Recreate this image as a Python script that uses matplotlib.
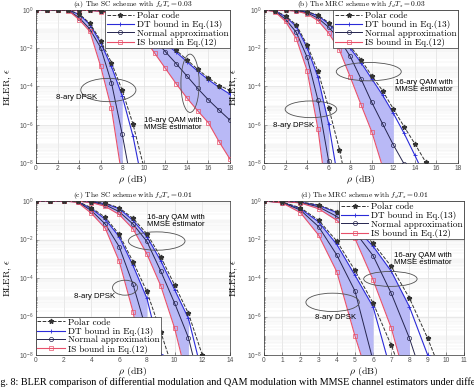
import numpy as np
import matplotlib
matplotlib.use("Agg")
import matplotlib.pyplot as plt
from matplotlib.patches import Ellipse
from matplotlib.ticker import LogLocator, FixedLocator, NullFormatter, LogFormatterSciNotation

plt.rcParams['font.family'] = ['Liberation Sans', 'DejaVu Sans']
plt.rcParams['mathtext.fontset'] = 'cm'

# ---------------- data (log10 of BLER at integer rho in dB, starting at 0 dB) -------------
a_dpsk_polar = [0, 0, 0, -0.01, -0.2, -0.7, -1.6, -2.75, -4.2, -5.97, -8.2]
a_dpsk_dt    = [0, 0, 0, -0.01, -0.23, -0.76, -1.72, -2.95, -4.5, -6.6, -9.4]
a_dpsk_na    = [0, 0, 0, -0.02, -0.4, -1.0, -1.97, -3.8, -6.5, -9.5]
a_dpsk_is    = [0, 0, 0, -0.03, -0.5, -1.12, -2.95, -5.15, -8.8]
a_qam_polar = [0, 0, 0, 0, 0, -0.01, -0.04, -0.12, -0.25, -0.45, -0.75, -1.2, -1.7, -2.1, -2.6, -3.1, -3.55, -3.95, -4.2]
a_qam_dt    = [0, 0, 0, 0, 0, -0.01, -0.05, -0.14, -0.28, -0.5, -0.8, -1.25, -1.75, -2.2, -2.7, -3.2, -3.65, -4.05, -4.4]
a_qam_na    = [0, 0, 0, 0, 0, -0.02, -0.06, -0.18, -0.35, -0.62, -1.0, -1.55, -2.18, -2.8, -3.45, -4.1, -4.7, -5.24, -5.76]
a_qam_is    = [0, 0, 0, 0, 0, -0.02, -0.08, -0.22, -0.45, -0.85, -1.45, -2.25, -3.05, -3.85, -4.6, -5.27, -5.9, -6.9, -7.8]

b_dpsk_polar = [0, -0.03, -0.31, -0.78, -1.83, -3.2, -5.1, -7.3, -10]
b_dpsk_dt    = [0, -0.04, -0.35, -0.86, -1.97, -3.5, -5.95, -9.3]
b_dpsk_na    = [0, -0.06, -0.48, -1.17, -2.47, -4.7, -7.9, -12]
b_dpsk_is    = [0, -0.08, -0.6, -1.5, -3.17, -6.2, -10.5]
b_qam_polar = [0, 0, 0, -0.02, -0.09, -0.26, -0.66, -1.2, -1.9, -2.6, -3.44, -4.22, -5.17, -6.1, -7.0, -7.95, -9.0]
b_qam_dt    = [0, 0, -0.01, -0.03, -0.1, -0.3, -0.72, -1.3, -2.0, -2.75, -3.6, -4.45, -5.4, -6.45, -7.6, -8.8]
b_qam_na    = [0, 0, -0.01, -0.04, -0.15, -0.42, -0.9, -1.53, -2.43, -3.6, -4.83, -5.95, -7.05, -8.05, -9.3]
b_qam_is    = [0, 0, -0.02, -0.06, -0.2, -0.55, -1.2, -2.1, -3.5, -4.95, -6.37, -8.2, -10]

c_dpsk_polar = [0, 0, 0, -0.02, -0.35, -0.85, -1.73, -3.15, -4.7, -6.8, -9.0]
c_dpsk_dt    = [0, 0, 0, -0.03, -0.4, -0.95, -1.85, -3.35, -5.05, -7.95, -11]
c_dpsk_na    = [0, 0, 0, -0.05, -0.5, -1.2, -2.37, -4.33, -6.8, -10]
c_dpsk_is    = [0, 0, 0, -0.07, -0.64, -1.42, -3.12, -5.75, -9.5]
c_qam_polar = [0, 0, 0, 0, -0.03, -0.12, -0.35, -0.9, -1.7, -2.9, -4.36, -5.84, -8.0, -10.5]
c_qam_dt    = [0, 0, 0, 0, -0.04, -0.14, -0.4, -1.0, -1.85, -3.1, -4.6, -6.1, -9.0, -12]
c_qam_na    = [0, 0, 0, -0.01, -0.06, -0.2, -0.55, -1.2, -2.1, -3.64, -5.3, -7.1, -10]
c_qam_is    = [0, 0, 0, -0.01, -0.08, -0.28, -0.7, -1.45, -2.75, -4.4, -6.6, -9.5]

d_dpsk_polar = [0, -0.05, -0.35, -0.99, -2.08, -3.6, -5.3, -7.5, -10]
d_dpsk_dt    = [0, -0.06, -0.4, -1.08, -2.25, -3.85, -5.5, -8.9]
d_dpsk_na    = [0, -0.08, -0.47, -1.33, -2.8, -4.67, -8.3]
d_dpsk_is    = [0, -0.1, -0.6, -1.77, -3.67, -7.0, -10]
d_qam_polar = [0, -0.01, -0.05, -0.2, -0.55, -1.25, -2.2, -3.4, -5.05, -7.13, -9.5]
d_qam_dt    = [0, -0.01, -0.06, -0.23, -0.6, -1.35, -2.35, -3.65, -5.5, -8.0]
d_qam_na    = [0, -0.01, -0.08, -0.3, -0.8, -1.6, -2.84, -4.8, -7.13, -10]
d_qam_is    = [0, -0.02, -0.1, -0.4, -1.0, -1.94, -4.1, -6.6, -10]

titles = ["(a) The SC scheme with $f_dT_s = 0.03$",
          "(b) The MRC scheme with $f_dT_s = 0.03$",
          "(c) The SC scheme with $f_dT_s = 0.01$",
          "(d) The MRC scheme with $f_dT_s = 0.01$"]
legend_labels = ["Polar code", "DT bound in Eq.(13)", "Normal approximation", "IS bound in Eq.(12)"]
x_max = [18, 18, 14, 11]
x_ticks = [list(range(0, 19, 2)), list(range(0, 19, 2)), list(range(0, 15, 2)), list(range(0, 12, 1))]
caption = ("Fig. 8: BLER comparison of differential modulation and QAM modulation with MMSE "
           "channel estimators under different")

panels = [
    dict(dpsk=(a_dpsk_polar, a_dpsk_dt, a_dpsk_na, a_dpsk_is), qam=(a_qam_polar, a_qam_dt, a_qam_na, a_qam_is)),
    dict(dpsk=(b_dpsk_polar, b_dpsk_dt, b_dpsk_na, b_dpsk_is), qam=(b_qam_polar, b_qam_dt, b_qam_na, b_qam_is)),
    dict(dpsk=(c_dpsk_polar, c_dpsk_dt, c_dpsk_na, c_dpsk_is), qam=(c_qam_polar, c_qam_dt, c_qam_na, c_qam_is)),
    dict(dpsk=(d_dpsk_polar, d_dpsk_dt, d_dpsk_na, d_dpsk_is), qam=(d_qam_polar, d_qam_dt, d_qam_na, d_qam_is)),
]

# ---------------- layout / style -------------
W, H = 474, 387
fig = plt.figure(figsize=(W / 100, H / 100), dpi=100)

def px_axes(l, t, r, b):
    return fig.add_axes([l / W, 1 - b / H, (r - l) / W, (b - t) / H])

axes_px = [(36, 10, 230, 163), (264, 10, 458, 163), (36, 201, 230, 355), (264, 201, 464, 355)]

C_POLAR = '#333333'
C_DT = '#2b2bd8'
C_NA = '#25254f'
C_IS = '#e8506a'
C_FILL = '#b9b9f6'
serif = 'cmr10'

ellipses = [
    [(0.373, 0.477, 0.284, 0.152), (0.794, 0.521, 0.094, 0.381)],
    [(0.242, 0.351, 0.266, 0.109), (0.540, 0.597, 0.335, 0.120)],
    [(0.459, 0.437, 0.129, 0.097), (0.622, 0.740, 0.292, 0.119)],
    [(0.343, 0.342, 0.267, 0.119), (0.632, 0.494, 0.267, 0.097)],
]
dpsk_text = [(0.21, 0.425), (0.153, 0.248), (0.30, 0.378), (0.357, 0.242)]
qam_text = [(0.557, 0.255), (0.677, 0.503), (0.571, 0.87), (0.648, 0.623)]
legend_loc = ['upper right', 'upper right', 'lower left', 'upper right']
ylabel_x = [-0.115, -0.125, -0.115, -0.12]

for i, p in enumerate(panels):
    ax = px_axes(*axes_px[i])
    ax.set_yscale('log')
    handles = None
    for grp in ('dpsk', 'qam'):
        polar, dt, na, iss = [10.0 ** np.array(v, dtype=float) for v in p[grp]]
        xp, xd, xn, xi = [np.arange(len(v)) for v in (polar, dt, na, iss)]
        n = min(len(dt), len(iss))
        ax.fill_between(np.arange(n), dt[:n], iss[:n], color=C_FILL, lw=0, zorder=1)
        h1, = ax.plot(xp, polar, '--', color=C_POLAR, lw=0.7, marker='*', ms=3.5, mec=C_POLAR, mfc=C_POLAR, zorder=5)
        h2, = ax.plot(xd, dt, '-', color=C_DT, lw=0.8, marker='+', ms=3.5, mew=0.6, zorder=4)
        h3, = ax.plot(xn, na, '-', color=C_NA, lw=0.7, marker='o', ms=3, mfc='none', mew=0.5, zorder=4)
        h4, = ax.plot(xi, iss, '-', color=C_IS, lw=0.8, marker='s', ms=2.5, mfc='none', mew=0.5, zorder=4)
        handles = [h1, h2, h3, h4]
    ax.set_xlim(0, x_max[i])
    ax.set_ylim(1e-8, 1)
    ax.xaxis.set_major_locator(FixedLocator(x_ticks[i]))
    ax.yaxis.set_major_locator(FixedLocator([1e-8, 1e-6, 1e-4, 1e-2, 1]))
    ax.yaxis.set_major_formatter(LogFormatterSciNotation())
    ax.yaxis.set_minor_locator(LogLocator(base=10, subs=np.arange(1, 10), numticks=30))
    ax.yaxis.set_minor_formatter(NullFormatter())
    ax.grid(True, which='major', color='#d9d9d9', lw=0.45)
    ax.grid(True, which='minor', axis='y', color='#ececec', lw=0.35)
    ax.set_axisbelow(True)
    ax.tick_params(which='both', direction='in', labelsize=4.8, labelcolor='#505050', color='#404040',
                   length=2, width=0.4, pad=1.5)
    ax.tick_params(which='minor', length=1)
    for s in ax.spines.values():
        s.set_linewidth(0.5)
        s.set_color('#303030')
    ax.set_title(titles[i], fontsize=5.4, family=serif, pad=0.6)
    ax.set_ylabel("BLER, $\\epsilon$", fontsize=7, family=serif)
    ax.yaxis.set_label_coords(ylabel_x[i], 0.5)
    ax.set_xlabel("$\\rho$ (dB)", fontsize=7, family=serif, labelpad=1)
    leg = ax.legend(handles, legend_labels, loc=legend_loc[i], labelspacing=0.02,
                    borderpad=0.15, handlelength=3.0, handletextpad=0.3, borderaxespad=0.0,
                    fancybox=False, edgecolor='#303030', framealpha=1, prop={'family': serif, 'size': 6.6})
    leg.get_frame().set_linewidth(0.5)
    for (cx, cy, w, h) in ellipses[i]:
        ax.add_patch(Ellipse((cx, cy), w, h, transform=ax.transAxes, fill=False, ec='#505050', lw=0.6, zorder=6))
    ax.text(*dpsk_text[i], "8-ary DPSK", transform=ax.transAxes, fontsize=5.6, ha='center', va='center', zorder=7)
    ax.text(*qam_text[i], "16-ary QAM with\nMMSE estimator", transform=ax.transAxes, fontsize=5.6,
            ha='left', va='center', linespacing=1.05, zorder=7)

fig.text(-8 / W, 1 - 385 / H, caption, fontsize=7.3, family='Liberation Serif', ha='left', va='baseline')

fig.savefig("out.png", dpi=100)
